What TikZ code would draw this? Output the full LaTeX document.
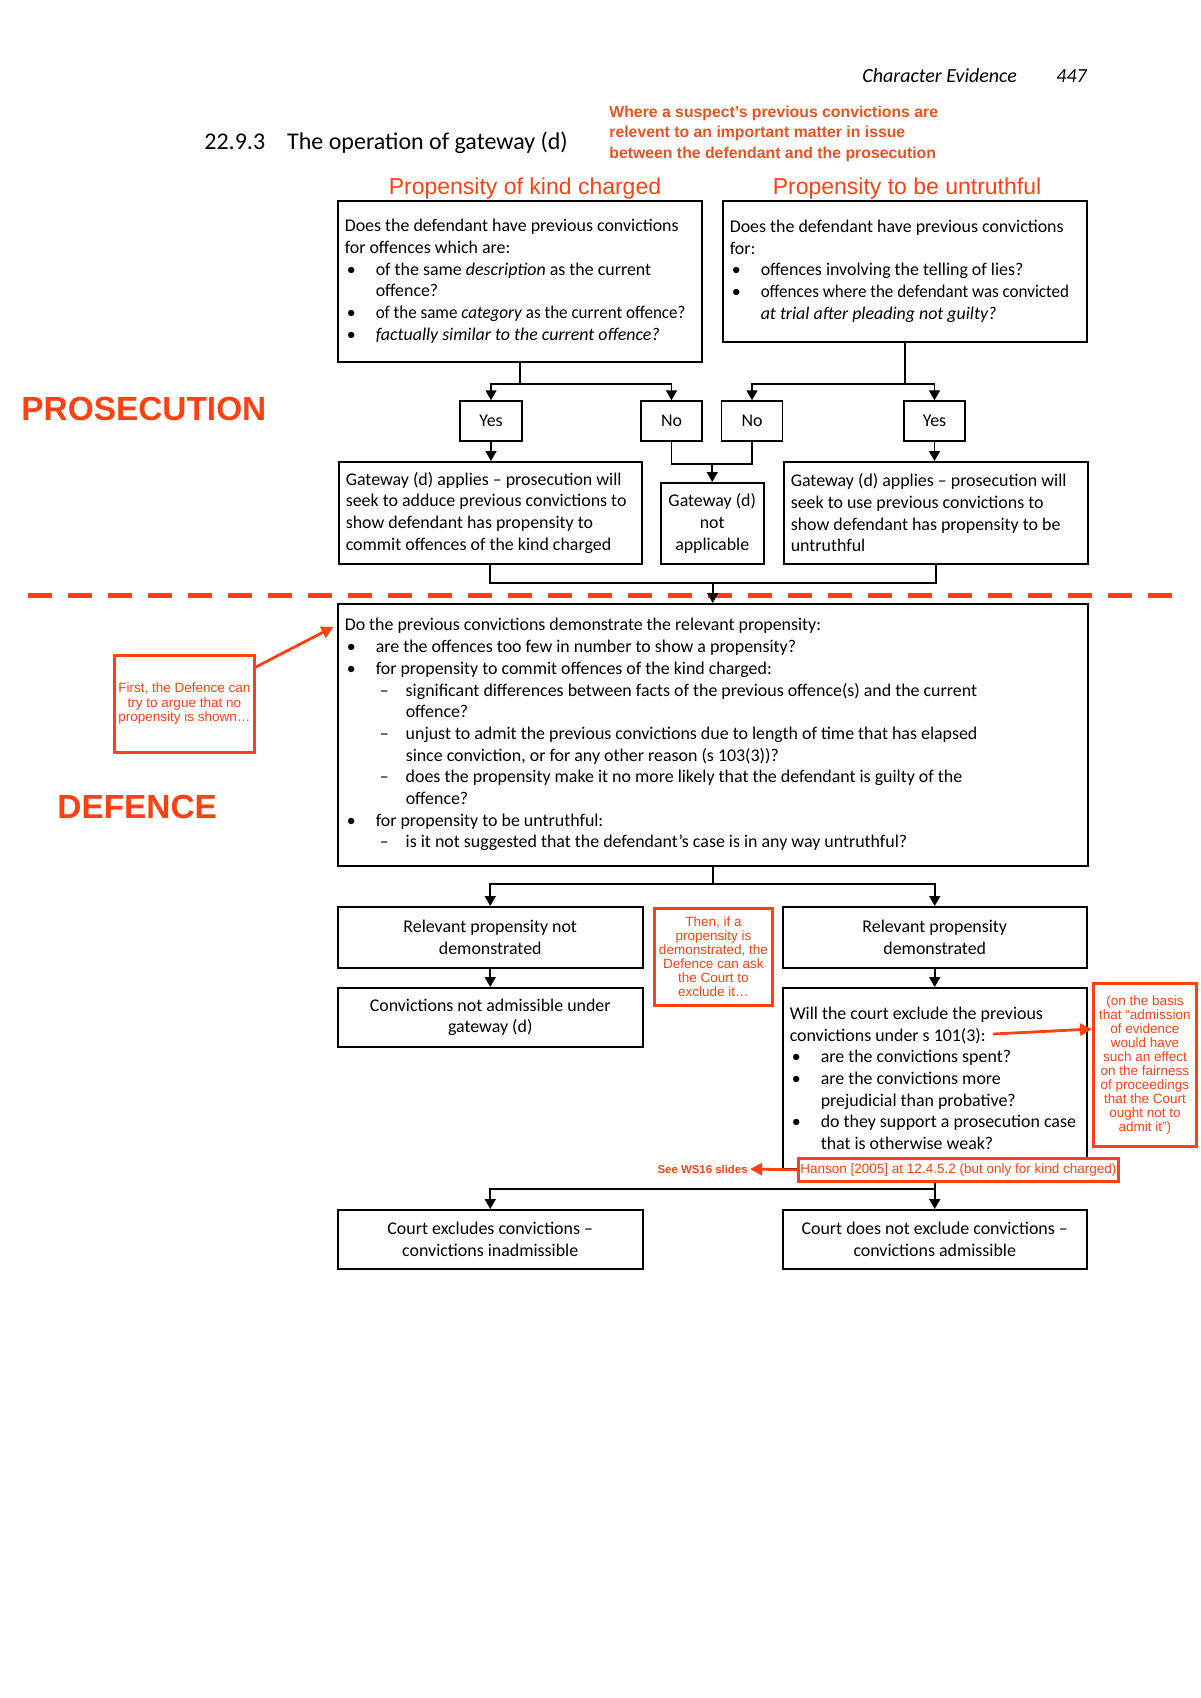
\documentclass[tikz,border=0pt]{standalone}
\usepackage{fontspec}
\usepackage{graphicx}
\setmainfont{Carlito}
\newfontfamily\arialf{Liberation Sans}
\usetikzlibrary{arrows.meta}
\definecolor{annred}{RGB}{255,64,16}
\definecolor{topred}{RGB}{234,82,30}
\newcommand\bodyfont{\fontsize{8.95pt}{10.85pt}\selectfont}
\newcommand\annfont{\arialf\fontsize{6.75pt}{7pt}\selectfont}
\newcommand\bu{\makebox[15.5pt][l]{\hspace{1pt}\textbullet}}
\newcommand\ii{\hspace*{15.5pt}}
\newcommand\da{\hspace*{17.5pt}\makebox[13pt][l]{–}}
\newcommand\dd{\hspace*{30.5pt}}
\newcommand\squeeze[1]{\scalebox{0.95}[1]{#1}}
\tikzset{
 x=0.5pt, y=-0.5pt,
 natsp/.style={execute at begin node={\spaceskip=\fontdimen2\font\xspaceskip=\fontdimen2\font\relax}},
 box/.style={draw=black, line width=0.75pt, inner xsep=3.5pt, inner ysep=0pt, align=left,
   font=\bodyfont, anchor=north west, fill=white, natsp},
 cbox/.style={box, align=center},
 arr/.style={line width=0.8pt, -{Triangle[width=5.5pt,length=5pt]}},
 ln/.style={line width=0.8pt},
 rbox/.style={draw=annred, line width=1.4pt, text=annred, font=\annfont, align=center,
   anchor=north west, inner sep=0pt, fill=white, natsp},
 rarr/.style={draw=annred, line width=1.4pt, -{Triangle[width=6pt,length=6pt]}},
 heading/.style={text=annred, font=\arialf\fontsize{11.5pt}{13pt}\selectfont, inner sep=0pt},
 side/.style={text=annred, font=\arialf\bfseries\fontsize{16.7pt}{18pt}\selectfont, inner sep=0pt, anchor=west},
}
\begin{document}
\begin{tikzpicture}
\useasboundingbox[fill=white] (0,0) rectangle (1200,1698);

% header
\node[anchor=west, inner sep=0pt, font=\itshape\fontsize{10pt}{12pt}\selectfont] (hdr) at (862,76) {Character Evidence};
\node[anchor=west, inner sep=0pt, font=\itshape\fontsize{10pt}{12pt}\selectfont] (pg) at (1056,76) {447};
\node[anchor=west, inner sep=0pt, font=\fontsize{12pt}{14pt}\selectfont] (title) at (204,143) {22.9.3\hspace{11pt}The operation of gateway (d)};
\node[anchor=base west, inner sep=0pt, align=left, text=topred,
  font=\arialf\bfseries\fontsize{7.9pt}{10.25pt}\selectfont] (topnote) at (609,158)
  {Where a suspect’s previous convictions are\\relevent to an important matter in issue\\between the defendant and the prosecution};

% headings
\node[heading] (h1) at (525,189) {Propensity of kind charged};
\node[heading] (h2) at (907,189) {Propensity to be untruthful};

\node[side] (pros) at (21,409) {PROSECUTION};
\node[side] (def) at (57,807) {DEFENCE};

% dashed divider
\coordinate (dl) at (28,595);
\coordinate (dr) at (1181,595);
\draw[annred, line width=2.5pt, dash pattern=on 12pt off 8pt] (dl) -- (dr);

% top question boxes
\node[box, minimum width=182pt, minimum height=80.5pt, text width=175pt] (B1) at (337,200)
 {\mbox{Does the defendant have previous convictions}\\
  \mbox{for offences which are:}\\
  \mbox{\bu of the same \textit{description} as the current}\\
  \mbox{\ii offence?}\\
  \mbox{\bu \squeeze{of the same \textit{category} as the current offence?}}\\
  \mbox{\bu \textit{factually similar to the current offence?}}};
\node[box, minimum width=182pt, minimum height=70.5pt, text width=175pt] (B2) at (722,200)
 {\mbox{Does the defendant have previous convictions}\\
  \mbox{for:}\\
  \mbox{\bu offences involving the telling of lies?}\\
  \mbox{\bu \squeeze{offences where the defendant was convicted}}\\
  \mbox{\ii \textit{at trial after pleading not guilty?}}};

% yes / no
\node[cbox, anchor=center, minimum width=31pt, minimum height=20pt] (Yes1) at (491,421) {Yes};
\node[cbox, anchor=center, minimum width=30.5pt, minimum height=20pt] (No1) at (671.5,421) {No};
\node[cbox, anchor=center, minimum width=30.5pt, minimum height=20pt] (No2) at (752,421) {No};
\node[cbox, anchor=center, minimum width=30.5pt, minimum height=20pt] (Yes2) at (934.5,421) {Yes};

% gateway boxes
\node[box, minimum width=151.5pt, minimum height=51pt, text width=144.5pt] (G1) at (338,461)
 {\mbox{Gateway (d) applies – prosecution will}\\
  \mbox{seek to adduce previous convictions to}\\
  \mbox{show defendant has propensity to}\\
  \mbox{commit offences of the kind charged}};
\node[cbox, minimum width=51.5pt, minimum height=40.5pt, text width=44.5pt] (G0) at (660,482)
 {Gateway (d)\\not\\applicable};
\node[box, minimum width=152pt, minimum height=51pt, text width=145pt] (G2) at (783,461)
 {\mbox{Gateway (d) applies – prosecution will}\\
  \mbox{seek to use previous convictions to}\\
  \mbox{show defendant has propensity to be}\\
  \mbox{untruthful}};

% defence question box
\node[box, minimum width=375pt, minimum height=131pt, text width=368pt] (D) at (337,603)
 {\mbox{Do the previous convictions demonstrate the relevant propensity:}\\
  \mbox{\bu are the offences too few in number to show a propensity?}\\
  \mbox{\bu for propensity to commit offences of the kind charged:}\\
  \mbox{\da significant differences between facts of the previous offence(s) and the current}\\
  \mbox{\dd offence?}\\
  \mbox{\da unjust to admit the previous convictions due to length of time that has elapsed}\\
  \mbox{\dd since conviction, or for any other reason (s 103(3))?}\\
  \mbox{\da does the propensity make it no more likely that the defendant is guilty of the}\\
  \mbox{\dd offence?}\\
  \mbox{\bu for propensity to be untruthful:}\\
  \mbox{\da is it not suggested that the defendant's case is in any way untruthful?}};

% outcome boxes
\node[cbox, minimum width=152.5pt, minimum height=30.5pt, text width=145.5pt] (R1) at (337,906)
 {Relevant propensity not\\demonstrated};
\node[cbox, minimum width=152.5pt, minimum height=29.5pt, text width=145.5pt] (C1) at (337,987)
 {Convictions not admissible under\\gateway (d)};
\node[cbox, minimum width=152pt, minimum height=30.5pt, text width=145pt] (R2) at (782,906)
 {Relevant propensity\\demonstrated};
\node[box, minimum width=152pt, minimum height=90.5pt, text width=145pt] (W) at (782,987)
 {\mbox{Will the court exclude the previous}\\
  \mbox{convictions under s 101(3):}\\
  \mbox{\bu are the convictions spent?}\\
  \mbox{\bu are the convictions more}\\
  \mbox{\ii prejudicial than probative?}\\
  \mbox{\bu do they support a prosecution case}\\
  \mbox{\ii that is otherwise weak?}};
\node[cbox, minimum width=152.5pt, minimum height=29.5pt, text width=145.5pt] (E1) at (337,1209)
 {Court excludes convictions –\\convictions inadmissible};
\node[cbox, minimum width=152pt, minimum height=29.5pt, text width=145pt] (E2) at (782,1209)
 {Court does not exclude convictions –\\convictions admissible};

% connectors
\coordinate (y1) at (0,384);
\draw[ln] (B1.south) -- (B1.south |- y1);
\draw[arr] (B1.south |- y1) -| (Yes1.north);
\draw[arr] (B1.south |- y1) -| (No1.north);
\draw[ln] (B2.south) -- (B2.south |- y1);
\draw[arr] (B2.south |- y1) -| (No2.north);
\draw[arr] (B2.south |- y1) -| (Yes2.north);
\draw[arr] (Yes1.south) -- (Yes1.south |- G1.north);
\draw[arr] (Yes2.south) -- (Yes2.south |- G2.north);
\coordinate (y2) at (0,464);
\draw[ln] (No1.south) |- (G0.north |- y2) -| (No2.south);
\draw[arr] (G0.north |- y2) -- (G0.north);
\coordinate (y3) at (0,583);
\draw[ln] (G1.south) |- (D.north |- y3) -| (G2.south);
\draw[arr] (D.north |- y3) -- (D.north);
\coordinate (y4) at (0,884);
\draw[ln] (D.south) -- (D.south |- y4);
\draw[arr] (D.south |- y4) -| (R1.north);
\draw[arr] (D.south |- y4) -| (R2.north);
\draw[arr] (R1.south) -- (C1.north);
\draw[arr] (R2.south) -- (W.north);
\coordinate (y5) at (0,1189);
\draw[ln] (W.south) -- (W.south |- y5);
\draw[arr] (W.south |- y5) -| (E1.north);
\draw[arr] (W.south |- y5) -| (E2.north);

% red annotations
\node[rbox, minimum width=70pt, minimum height=48.5pt, font=\arialf\fontsize{6.75pt}{7.25pt}\selectfont] (A1) at (113,654)
 {First, the Defence can\\try to argue that no\\propensity is shown…};
\node[rbox, minimum width=59pt, minimum height=48.5pt] (A2) at (653,907)
 {Then, if a\\propensity is\\demonstrated, the\\Defence can ask\\the Court to\\exclude it…};
\node[rbox, minimum width=51.5pt, minimum height=81.5pt] (A3) at (1092,982)
 {(on the basis\\that “admission\\of evidence\\would have\\such an effect\\on the fairness\\of proceedings\\that the Court\\ought not to\\admit it”)};
\node[rbox, minimum width=160pt, minimum height=11.5pt] (A4) at (797,1157)
 {Hanson [2005] at 12.4.5.2 (but only for kind charged)};
\node[anchor=east, inner xsep=1pt, inner ysep=0pt, text=annred, font=\arialf\bfseries\fontsize{5.7pt}{7pt}\selectfont] (WS) at (750,1169) {See WS16 slides};

\coordinate (a1y) at (0,667);
\coordinate (a1e) at (0,625);
\draw[rarr, shorten >=2pt] (A1.east |- a1y) -- (D.west |- a1e);
\coordinate (w3s) at (993,1034);
\coordinate (a3y) at (0,1029);
\draw[rarr] (w3s) -- (A3.west |- a3y);
\draw[rarr] (A4.west) -- (WS.east);
\end{tikzpicture}
\end{document}
